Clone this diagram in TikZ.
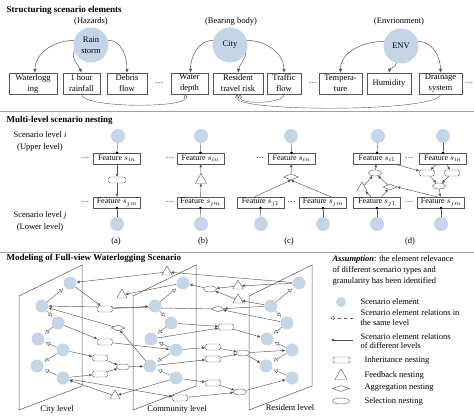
\documentclass[tikz,border=0pt]{standalone}
\usepackage{fontspec}
\setmainfont{Liberation Serif}
\usetikzlibrary{shapes.geometric,arrows.meta,positioning,backgrounds}

\definecolor{elemblue}{RGB}{196,213,231}
\definecolor{linegray}{RGB}{85,85,85}
\definecolor{framegray}{RGB}{160,160,160}

\tikzset{
  elem/.style={circle,fill=elemblue,inner sep=0pt,minimum size=#1},
  elem/.default=13pt,
  txt/.style={font=\fontsize{8.5}{11}\selectfont},
  ttl/.style={font=\bfseries\fontsize{9}{10}\selectfont,anchor=west},
  sbox/.style={draw=linegray,fill=white,align=center,minimum height=21pt,inner sep=1pt,txt},
  fbox/.style={draw=linegray,fill=white,minimum width=47pt,minimum height=11pt,inner sep=1pt,font=\fontsize{8}{8}\selectfont},
  inh/.style={draw=linegray,fill=white,rounded corners=1.5pt,minimum width=15pt,minimum height=6pt,inner sep=0pt},
  fdb/.style={draw=linegray,fill=white,regular polygon,regular polygon sides=3,minimum size=12pt,inner sep=0pt},
  agg/.style={draw=linegray,fill=white,diamond,minimum width=14pt,minimum height=6pt,inner sep=0pt},
  sel/.style={draw=linegray,fill=white,ellipse,minimum width=13pt,minimum height=6pt,inner sep=0pt},
  jdot/.style={circle,fill=black,inner sep=0pt,minimum size=3pt},
  arr/.style={draw=linegray,line width=0.5pt,-{Latex[length=4pt,width=3.5pt]}},
  same/.style={draw=linegray,line width=0.4pt,-{Triangle[open,length=4pt,width=4pt]}},
  rel/.style={draw=linegray,line width=0.45pt,-{Latex[length=3pt,width=3pt]}},
  plane/.style={draw=linegray,line width=0.5pt},
}

\begin{document}
\begin{tikzpicture}[x=1pt,y=-1pt]
\useasboundingbox (0,0) rectangle (474,417);
\draw[framegray,line width=1pt] (0,112) -- (474,112);
\draw[framegray,line width=1pt] (0,252) -- (474,252);

% structuring scenario elements
\node[ttl] (ttlA) at (3,10) {Structuring scenario elements};
\node[txt] (hz) at (91,21) {(Hazards)};
\node[txt] (bb) at (231,21) {(Bearing body)};
\node[txt] (en) at (399,21) {(Envrionment)};
\node[elem=35pt,txt,align=center] (rain) at (91,45) {Rain\\storm};
\node[elem=35pt,txt] (city) at (230,45) {City};
\node[elem=35pt,txt] (env) at (401,46) {ENV};

\node[sbox,minimum width=48pt] (wl) at (33,83.5) {Waterlogg\\ing};
\node[sbox,minimum width=37pt] (rf) at (81.5,83.5) {1 hour\\rainfall};
\node[sbox,minimum width=40pt] (db) at (127,83.5) {Debris\\flow};
\node[sbox,minimum width=37pt] (wd) at (189.5,83.5) {Water\\depth};
\node[sbox,minimum width=50pt] (rr) at (238,83.5) {Resident\\travel risk};
\node[sbox,minimum width=34pt] (tf) at (284,83.5) {Traffic\\flow};
\node[sbox,minimum width=43pt] (tp) at (340.5,83.5) {Tempera-\\ture};
\node[sbox,minimum width=44pt] (hm) at (389,83.5) {Humidity};
\node[sbox,minimum width=43pt] (dr) at (440.5,83.5) {Drainage\\system};
\node[txt] (e1) at (159,83) {\dots};
\node[txt] (e2) at (313,83) {\dots};
\node[txt] (e3) at (469,83) {\dots};

\draw[arr] (rain.165) to[out=180,in=90] ([xshift=2pt]wl.north);
\draw[arr] (rain.200) to[out=245,in=110] (rf.north);
\draw[arr] (rain.15) to[out=0,in=90] (db.north);
\draw[arr] (city.165) to[out=180,in=90] ([xshift=1pt]wd.north);
\draw[arr] (city.-25) to[out=260,in=80] (rr.north);
\draw[arr] (city.15) to[out=0,in=90] (tf.north);
\draw[arr] (env.165) to[out=180,in=90] (tp.north);
\draw[arr] (env.-105) to[out=260,in=80] (hm.north);
\draw[arr] (env.15) to[out=0,in=90] (dr.north);
\draw[same] (rf.south) .. controls +(0,14) and +(0,14) .. ([xshift=-4pt]wd.south);
\draw[same] (tf.south) .. controls +(0,10) and +(0,10) .. ([xshift=2pt]rr.south);
\draw[same] (dr.south) .. controls +(0,18) and +(0,18) .. ([xshift=-1pt]rr.south);

% multi-level scenario nesting
\node[ttl] (ttlB) at (3,120) {Multi-level scenario nesting};
\node[txt,align=center,font=\fontsize{8.5}{12}\selectfont] (lvi) at (40,141) {Scenario level \textit{i}\\(Upper level)};
\node[txt,align=center,font=\fontsize{8.5}{12}\selectfont] (lvj) at (40,221.5) {Scenario level \textit{j}\\(Lower level)};

% (a)
\node[elem=14pt] (ta) at (118,136) {};
\node[fbox] (ua) at (117,158.5) {Feature $s_{in}$};
\node[inh,minimum width=17pt] (na) at (117,180) {};
\node[fbox] (la) at (117,202.5) {Feature $s_{jm}$};
\node[elem=14pt] (ba) at (117,224) {};
\node[jdot] (dua) at (ua.north) {};
\node[jdot] (dla) at (la.south) {};
\draw[linegray] (ta) -- (dua);
\draw[linegray] (ba) -- (dla);
\draw[rel] (ua) -- (na);
\draw[rel] (na) -- (la);
\node[txt] (ea1) at (85,158) {\dots};
\node[txt] (ea2) at (85,202) {\dots};
\node[txt] (capa) at (116,241) {(a)};

% (b)
\node[elem=14pt] (tb) at (201,136) {};
\node[fbox] (ub) at (200.5,158.5) {Feature $s_{in}$};
\node[fdb,minimum size=13pt] (nb) at (201,180) {};
\node[fbox] (lb) at (200.5,202.5) {Feature $s_{jm}$};
\node[elem=14pt] (bb2) at (201,224) {};
\node[jdot] (dub) at (ub.north) {};
\node[jdot] (dlb) at (lb.south) {};
\draw[linegray] (tb) -- (dub);
\draw[linegray] (bb2) -- (dlb);
\draw[rel] (lb) -- (nb);
\draw[rel] (nb) -- (ub);
\node[txt] (eb1) at (170,158) {\dots};
\node[txt] (eb2) at (170,202) {\dots};
\node[txt] (capb) at (203,241) {(b)};

% (c)
\node[elem=14pt] (tc) at (291,136) {};
\node[fbox] (uc) at (291.5,158.5) {Feature $s_{in}$};
\node[agg,minimum width=15pt] (nc) at (291,177) {};
\node[fbox] (lc1) at (260.5,202.5) {Feature $s_{j1}$};
\node[fbox] (lc2) at (323,202.5) {Feature $s_{jm}$};
\node[elem=14pt] (bc1) at (261,224) {};
\node[elem=14pt] (bc2) at (323,224) {};
\node[jdot] (duc) at (uc.north) {};
\node[jdot] (dlc1) at (lc1.south) {};
\node[jdot] (dlc2) at (lc2.south) {};
\draw[linegray] (tc) -- (duc);
\draw[linegray] (bc1) -- (dlc1);
\draw[linegray] (bc2) -- (dlc2);
\draw[rel] ([xshift=-6pt]lc1.north) -- (nc.south);
\draw[rel] ([xshift=8pt]lc2.north) -- (nc.south);
\draw[rel] (nc) -- (uc);
\node[txt] (ec1) at (260,158) {\dots};
\node[txt] (ec2) at (291.5,202) {\dots};
\node[txt] (capc) at (289,241) {(c)};

% (d)
\node[elem=14pt] (td1) at (378,136) {};
\node[elem=14pt] (td2) at (443,136) {};
\node[fbox] (ud1) at (377,158.5) {Feature $s_{i1}$};
\node[fbox] (ud2) at (443,158.5) {Feature $s_{in}$};
\node[sel] (sd1) at (375,173) {};
\node[fdb,minimum size=12pt] (fd) at (362,188) {};
\node[agg] (ad) at (390,187) {};
\node[inh] (id1) at (427,173) {};
\node[inh] (id2) at (452,173) {};
\node[sel] (sd2) at (439,186) {};
\node[fbox] (ld1) at (377,202.5) {Feature $s_{j1}$};
\node[fbox] (ld2) at (441,202.5) {Feature $s_{jm}$};
\node[elem=14pt] (bd1) at (377,224) {};
\node[elem=14pt] (bd2) at (441,224) {};
\node[jdot] (dud1) at (ud1.north) {};
\node[jdot] (dud2) at (ud2.north) {};
\node[jdot] (dld1) at (ld1.south) {};
\node[jdot] (dld2) at (ld2.south) {};
\draw[linegray] (td1) -- (dud1);
\draw[linegray] (td2) -- (dud2);
\draw[linegray] (bd1) -- (dld1);
\draw[linegray] (bd2) -- (dld2);
\draw[rel] (ld1) -- (fd);
\draw[rel] (ld1) -- (ad);
\draw[rel] ([xshift=-4pt]ld2.north) -- (ad.east);
\draw[rel] (fd) -- (sd1);
\draw[rel] (ad) -- (sd1);
\draw[rel] (sd1) -- (ud1);
\draw[rel] ([xshift=18pt]ud1.south) -- (id1);
\draw[rel] (ud2) -- (id1);
\draw[rel] (ud2) -- (id2);
\draw[rel] (id1) -- (sd2);
\draw[rel] (id2) -- (sd2);
\draw[rel] (sd2) -- (ld2);
\node[txt] (ed1) at (409,158) {\dots};
\node[txt] (ed2) at (409,202) {\dots};
\node[txt] (capd) at (410,241) {(d)};

% modeling of full-view waterlogging scenario
\node[ttl] (ttlC) at (3,258) {Modeling of Full-view Waterlogging Scenario};
\node[txt,anchor=west,align=left] (asm) at (329,270) {\textbf{\textit{Assumption}}: the element relevance\\of different scenario types and\\granularity has been identified};

\foreach \dx in {0,114,230}
  \draw[plane] (19+\dx,296) -- (82+\dx,265) -- (82+\dx,386) -- (19+\dx,410) -- cycle;
\node[txt] (lvC) at (57,409) {City level};
\node[txt] (lvM) at (177,409) {Community level};
\node[txt] (lvR) at (290,408) {Resident level};

\foreach \L/\dx in {C/0,M/113,R/229}
  \foreach \i/\x/\y in {1/70/283,2/42/306,3/58/323,4/38/339,5/63/350,6/37/366,7/63/378}
    \node[elem] (\L\i) at (\x+\dx,\y) {};

\node[fdb] (T1) at (167,272) {};
\node[fdb] (T2) at (122,295) {};
\node[inh] (Ia) at (105,309) {};
\node[agg] (D2) at (118,328) {};
\node[inh] (Ib) at (105,342) {};
\node[inh] (Ic) at (100,358) {};
\node[inh] (Id) at (100,374) {};
\node[sel] (S1) at (123,367) {};
\node[fdb] (T3) at (115,396) {};
\node[inh] (Ie) at (180,398) {};
\node[sel] (S2) at (210,289) {};
\node[fdb] (T4) at (238,286) {};
\node[fdb] (T5) at (238,300) {};
\node[agg] (D1) at (218,309) {};
\node[inh] (If) at (226,327) {};
\node[inh] (Ig) at (213,347) {};
\node[inh] (Ih) at (213,359) {};
\node[sel] (S3) at (243,353) {};
\node[inh] (Ii) at (213,383) {};
\node[sel] (S4) at (240,392) {};

\begin{scope}[on background layer]
\foreach \L in {C,M,R} {
  \draw[same,shorten >=2pt] (\L2) -- (\L1);
  \draw[same,shorten >=2pt] (\L2) -- (\L3);
  \draw[same,shorten >=2pt] (\L3) -- (\L4);
  \draw[same,shorten >=2pt] (\L5) -- (\L4);
  \draw[same,shorten >=2pt] (\L5) -- (\L6);
  \draw[same,shorten >=2pt] (\L7) -- (\L6);
}
\draw[rel] (R1) -- (T1);
\draw[rel] (T1) -- (C1);
\draw[rel] (M1) -- (T2);
\draw[rel] (R1) -- (T4);
\draw[rel] (R2) -- (T5);
\draw[rel] (T4) -- (S2);
\draw[rel] (T5) -- (S2);
\draw[rel] (S2) -- (M1);
\draw[rel] (C1) -- (Ia);
\draw[rel] (Ia) -- (M2);
\draw[rel] (R2) -- (D1);
\draw[rel] (R3) -- (D1);
\draw[rel] (D1) -- (C2);
\draw[rel] (M6) -- (D2);
\draw[rel] (D2) -- (C2);
\draw[rel] (C3) -- (Ib);
\draw[rel] (Ib) -- (M5);
\draw[rel] (C5) -- (Ic);
\draw[rel] (C7) -- (Id);
\draw[rel] (Ic) -- (S1);
\draw[rel] (Id) -- (S1);
\draw[rel] (S1) -- (M6);
\draw[rel] (M7) -- (T3);
\draw[rel] (T3) -- (C7);
\draw[rel] (C7) -- (Ie);
\draw[rel] (Ie) -- (S4);
\draw[rel] (M7) -- (Ii);
\draw[rel] (Ii) -- (S4);
\draw[rel] (S4) -- (R7);
\draw[rel] (M3) -- (If);
\draw[rel] (M4) -- (If);
\draw[rel] (If) -- (R4);
\draw[rel] (M5) -- (Ig);
\draw[rel] (M6) -- (Ih);
\draw[rel] (Ig) -- (S3);
\draw[rel] (Ih) -- (S3);
\draw[rel] (S3) -- (R5);
\draw[rel] (S3) -- (R6);
\end{scope}

% legend
\node[elem=10pt] (lg1) at (341,302) {};
\node[txt,anchor=west] (lgt1) at (357,302) {Scenario element};
\coordinate (ls1) at (330,318);
\coordinate (ls2) at (353,318);
\draw[same,dashed] (ls2) -- (ls1);
\node[txt,anchor=west,align=left,font=\fontsize{8.5}{9.5}\selectfont] (lgt2) at (357,317.5) {Scenario element relations in\\the same level};
\coordinate (lr1) at (331,340);
\coordinate (lr2) at (353,340);
\draw[rel] (lr2) -- (lr1);
\node[txt,anchor=west,align=left,font=\fontsize{8.5}{9.5}\selectfont] (lgt3) at (357,341) {Scenario element relations\\of different levels};
\node[inh,minimum width=17pt] (lg4) at (341.5,360) {};
\node[txt,anchor=west] (lgt4) at (361,360) {Inheritance nesting};
\node[fdb,minimum size=14pt] (lg5) at (341,376) {};
\node[txt,anchor=west] (lgt5) at (361,375) {Feedback nesting};
\node[agg,minimum width=17pt] (lg6) at (341,388.5) {};
\node[txt,anchor=west] (lgt6) at (361,388) {Aggregation nesting};
\node[sel,minimum width=17pt] (lg7) at (341,401) {};
\node[txt,anchor=west] (lgt7) at (361,401) {Selection nesting};
\end{tikzpicture}
\end{document}
